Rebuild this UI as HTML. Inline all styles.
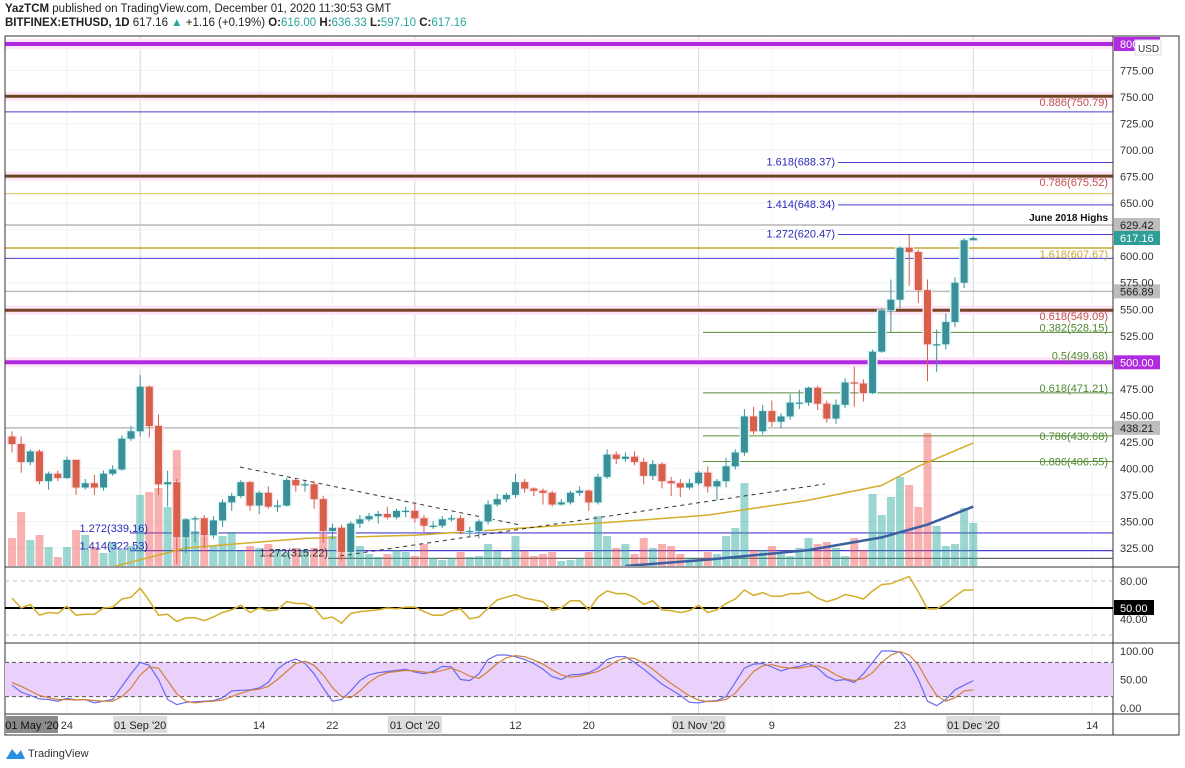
<!DOCTYPE html>
<html><head><meta charset="utf-8">
<style>
html,body{margin:0;padding:0;background:#fff;width:1185px;height:768px;overflow:hidden;font-family:"Liberation Sans",sans-serif;}
#hdr1{position:absolute;left:5px;top:3px;font-size:11.5px;color:#222;}
#hdr2{position:absolute;left:5px;top:17px;font-size:11.5px;color:#222;}
svg{position:absolute;left:0;top:0;}
</style></head><body>
<div id="hdr1"><b>YazTCM</b> published on TradingView.com, December 01, 2020 11:30:53 GMT</div>
<div id="hdr2"><b>BITFINEX:ETHUSD, 1D</b> 617.16 <span style="color:#26a69a">▲</span> +1.16 (+0.19%) <b>O:</b><span style="color:#26a69a">616.00</span> <b>H:</b><span style="color:#26a69a">636.33</span> <b>L:</b><span style="color:#26a69a">597.10</span> <b>C:</b><span style="color:#26a69a">617.16</span></div>
<svg id="chart" width="1185" height="768"></svg>
<script>
const opens=[430,423,406,416,388,395,391,408,382,386,382,395,399,428,
435,477,440,385,387,335,352,353,337,351,368,374,387,365,377,364,365,389,384,385,371,341,344,321,348,352,355,357,354,360,
360,353,346,346,352,353,341,341,350,366,371,375,387,381,379,377,366,368,377,379,368,392,413,409,411,406,393,404,388,386,382,
386,396,383,388,402,415,449,435,454,444,449,462,462,476,461,447,460,481,480,471,510,549,559,608,604,568,517,517,538,575,615];
const closes=[423,406,416,388,395,391,408,382,386,382,395,399,428,435,
477,440,385,387,335,352,353,337,351,368,374,387,365,377,364,365,389,384,385,371,341,344,321,348,352,355,357,354,360,360,
353,346,346,352,353,341,341,350,366,371,375,387,381,379,377,366,368,377,379,368,392,413,409,411,406,393,404,388,386,382,386,
396,383,388,402,415,449,435,454,444,449,462,462,476,461,447,460,481,480,471,510,549,559,608,604,568,517,517,538,575,615,617];
const highs=[435,430,418,418,397,398,411,408,390,394,398,403,431,440,
488,478,451,398,390,353,355,356,355,371,377,389,388,379,383,370,391,390,388,388,374,348,347,350,356,358,360,364,362,364,
368,356,350,355,356,356,345,352,370,376,377,395,390,382,381,379,371,379,383,380,395,418,416,415,416,410,408,406,392,390,390,
398,402,390,410,418,456,458,460,464,452,470,474,477,478,464,465,485,496,484,512,551,578,609,620,606,578,531,546,580,617,619];
const lows=[415,396,403,385,380,388,390,375,380,375,379,393,398,426,
430,429,375,364,310,320,330,325,334,345,360,372,360,357,362,359,364,378,378,362,330,333,313,315,344,350,348,352,352,354,
349,340,343,344,350,338,336,334,347,364,368,372,377,374,366,364,365,366,374,360,366,390,404,406,403,385,389,381,374,373,380,
384,377,370,382,399,412,432,432,439,438,446,456,459,455,443,442,457,458,463,470,509,528,551,572,556,482,491,512,533,570,615];
const volumes=[28,54,26,31,19,9,19,36,31,19,13,24,16,20,
71,74,78,59,116,42,35,36,20,30,34,15,20,18,22,16,14,18,16,18,32,30,26,16,20,12,9,12,16,14,
10,22,8,6,8,14,9,10,22,15,7,30,15,10,12,14,5,6,8,14,50,30,18,22,12,28,18,22,20,12,8,
6,14,12,30,38,83,16,16,20,12,10,18,28,22,24,18,10,28,16,72,51,69,89,81,59,133,40,20,22,58,43];
const rsi=[61,50,54,42,45,44,52,42,43,43,50,51,60,62,
72,58,42,43,35,39,39,36,40,45,48,53,45,50,47,48,57,55,55,50,38,40,33,44,46,47,48,50,49,51,
51,46,42,42,47,49,38,40,50,59,62,65,61,59,57,47,50,58,58,48,62,69,66,66,62,54,58,48,47,45,47,
53,45,48,55,60,70,64,67,63,63,66,66,68,61,57,60,65,63,60,69,76,77,81,85,68,49,49,55,63,70,70];
const stochK=[40,28,22,16,15,12,17,14,15,9,12,15,38,60,
80,75,50,15,6,10,11,12,13,18,30,31,32,35,45,68,80,86,78,60,35,12,15,30,48,58,62,64,66,68,
63,60,64,73,72,50,48,60,85,93,93,90,85,78,68,55,50,58,59,62,70,85,90,90,80,68,55,42,32,22,10,
9,12,13,20,45,70,77,78,72,65,70,73,78,70,55,48,50,45,60,80,100,100,98,80,50,12,4,15,32,40,48];
const stochD=[45,38,30,22,18,15,15,14,15,13,12,12,20,35,
58,72,70,48,25,12,9,11,12,14,20,26,31,33,38,50,64,78,82,75,58,36,20,18,30,45,56,62,64,66,
65,63,62,66,70,64,56,52,64,78,88,92,90,84,77,67,58,54,56,60,64,72,82,88,87,79,68,55,43,32,21,
14,11,12,15,26,45,64,74,76,72,70,70,73,74,68,58,51,48,52,62,80,93,99,93,76,47,22,12,18,30,32];
const ma50Days=[10,19,32,44,65,76,87,95,99,105];
const ma50Vals=[305,325,334,337,349,356,370,384,402,424];
const ma200Days=[67,76,87,95,100,105];
const ma200Vals=[308,314,323,335,347,364];
const priceTicks=[775,750,725,700,675,650,600,575,550,525,475,450,425,400,375,350,325];
const dateLabels=["24","14","22","12","20","9","23","14"];
const dateLabelDays=[6,27,35,55,63,83,97,118];
const monthLabels=["01 Sep '20","01 Oct '20","01 Nov '20","01 Dec '20"];
const monthDays=[14,44,75,105];

const NS="http://www.w3.org/2000/svg";
const svg=document.getElementById('chart');
function mk(tag,attrs,parent){const e=document.createElementNS(NS,tag);for(const k in attrs)e.setAttribute(k,attrs[k]);(parent||svg).appendChild(e);return e;}
const X=d=>12+d*9.155;
const Y=p=>44+(800-p)*1.061;
const YR=r=>608-(r-50)*0.9;
const YS=s=>708-s*0.57;
const VB=566;

const defs=mk('defs',{});
const cp=mk('clipPath',{id:'mainclip'},defs);
mk('rect',{x:5,y:36,width:1108,height:530},cp);

const grid=mk('g',{});


priceTicks.concat([800,625,500]).forEach(p=>mk('line',{x1:5,x2:1113,y1:Y(p),y2:Y(p),stroke:'#f0f3f6'},grid));
[-6,6,27,35,55,63,83,97,118].forEach(d=>mk('line',{x1:X(d),x2:X(d),y1:36,y2:714,stroke:'#f0f3f6'},grid));
monthDays.forEach(d=>mk('line',{x1:X(d),x2:X(d),y1:36,y2:714,stroke:'#d6d6d6'},grid));

const levels=[
 {p:800,c:'#b02ae0',w:4,glow:1,x1:5},
 {p:750.79,c:'#6b4424',w:3,glow:1,x1:5},
 {p:736,c:'#4a3fd0',w:1,x1:5},
 {p:688.37,c:'#4a3fd0',w:1,x1:838},
 {p:675.52,c:'#6b4424',w:3,glow:1,x1:5},
 {p:659,c:'#d8c25a',w:1,x1:5},
 {p:648.34,c:'#4a3fd0',w:1,x1:838},
 {p:629.42,c:'#c8c8c8',w:2,x1:5},
 {p:620.47,c:'#4a3fd0',w:1,x1:838},
 {p:607.67,c:'#c9a632',w:1.5,x1:5},
 {p:598,c:'#4a3fd0',w:1,x1:5},
 {p:566.89,c:'#bdbdbd',w:1.5,x1:5},
 {p:549.09,c:'#7a4226',w:3,glow:1,x1:5},
 {p:528.15,c:'#5a8a3a',w:1,x1:703},
 {p:500,c:'#b02ae0',w:4,glow:1,x1:5},
 {p:471.21,c:'#5a8a3a',w:1,x1:703},
 {p:438.21,c:'#bdbdbd',w:1.5,x1:5},
 {p:430.68,c:'#5a8a3a',w:1,x1:703},
 {p:406.55,c:'#5a8a3a',w:1,x1:703},
 {p:339.16,c:'#4a3fd0',w:1.2,x1:130},
 {p:322.53,c:'#4a3fd0',w:1.2,x1:130},
 {p:315.22,c:'#666',w:1.2,x1:328}
];
const lv=mk('g',{});


levels.forEach(l=>{
 if(l.glow) mk('line',{x1:l.x1,x2:1113,y1:Y(l.p),y2:Y(l.p),stroke:'#fde6f5','stroke-width':l.w+6},lv);
 mk('line',{x1:l.x1,x2:1113,y1:Y(l.p),y2:Y(l.p),stroke:l.c,'stroke-width':l.w},lv);
});

const vg=mk('g',{'clip-path':'url(#mainclip)'});


volumes.forEach((v,i)=>{
 const up=closes[i]>=opens[i];
 const r=mk('rect',{x:X(i)-4,y:VB-v,width:8,height:v,fill:up?'rgba(38,166,154,0.45)':'rgba(239,83,80,0.45)'},vg);
 
 
});

function poly(days,vals,yf){return days.map((d,i)=>X(d).toFixed(1)+','+yf(vals[i]).toFixed(1)).join(' ');}
const ma1=mk('polyline',{points:poly(ma50Days,ma50Vals,Y),fill:'none',stroke:'#d4ad2a','stroke-width':1.5,'clip-path':'url(#mainclip)'});


const ma2=mk('polyline',{points:poly(ma200Days,ma200Vals,Y),fill:'none',stroke:'#3b5fa0','stroke-width':2.5,'clip-path':'url(#mainclip)'});



const t1=mk('line',{x1:240,y1:467,x2:520,y2:525,stroke:'#333','stroke-dasharray':'4,4'});


const t2=mk('line',{x1:340,y1:556,x2:825,y2:484,stroke:'#333','stroke-dasharray':'4,4'});



const cg=mk('g',{});


opens.forEach((o,i)=>{
 const c=closes[i],up=c>=o,col=up?'#3c8f98':'#d85f48';
 const g=mk('g',{},cg);
 
 
 const top=Y(Math.max(o,c)),bot=Y(Math.min(o,c));
 mk('rect',{x:X(i)-5,y:top-1,width:10,height:Math.max(bot-top,1)+2,fill:up?'#d8fbfa':'#fde0ec'},g);
 mk('line',{x1:X(i),x2:X(i),y1:Y(highs[i]),y2:Y(lows[i]),stroke:col,'stroke-width':1},g);
 mk('rect',{x:X(i)-3.5,y:top,width:7,height:Math.max(bot-top,1.2),fill:col},g);
});

function txt(x,y,s,attrs,name){const t=mk('text',Object.assign({x:x,y:y,'font-size':11,'font-family':'Liberation Sans, sans-serif'},attrs));t.textContent=s;return t;}
txt(1108,Y(750.79)+10,'0.886(750.79)',{fill:'#c0504d','text-anchor':'end'},'fib-label-750');
txt(1108,Y(675.52)+10,'0.786(675.52)',{fill:'#c0504d','text-anchor':'end'},'fib-label-675');
txt(1108,Y(607.67)+10,'1.618(607.67)',{fill:'#c9a632','text-anchor':'end'},'fib-label-607');
txt(1108,Y(549.09)+10,'0.618(549.09)',{fill:'#c0504d','text-anchor':'end'},'fib-label-549');
txt(1108,Y(528.15)-1,'0.382(528.15)',{fill:'#4f8a2f','text-anchor':'end'},'fib-label-528');
txt(1108,Y(500)-3,'0.5(499.68)',{fill:'#4f8a2f','text-anchor':'end'},'fib-label-499');
txt(1108,Y(471.21)-1,'0.618(471.21)',{fill:'#4f8a2f','text-anchor':'end'},'fib-label-471');
txt(1108,Y(430.68)+4,'0.786(430.68)',{fill:'#4f8a2f','text-anchor':'end'},'fib-label-430');
txt(1108,Y(406.55)+4,'0.886(406.55)',{fill:'#4f8a2f','text-anchor':'end'},'fib-label-406');
txt(835,Y(688.37)+3,'1.618(688.37)',{fill:'#2a2ab8','text-anchor':'end'},'ext-label-688');
txt(835,Y(648.34)+3,'1.414(648.34)',{fill:'#2a2ab8','text-anchor':'end'},'ext-label-648');
txt(835,Y(620.47)+3,'1.272(620.47)',{fill:'#2a2ab8','text-anchor':'end'},'ext-label-620');
txt(148,Y(339.16)-1,'1.272(339.16)',{fill:'#2a2ab8','text-anchor':'end'},'ext-label-339');
txt(148,Y(322.53)-1,'1.414(322.53)',{fill:'#2a2ab8','text-anchor':'end'},'ext-label-322');
txt(328,Y(315.22)-2,'1.272(315.22)',{fill:'#333','text-anchor':'end'},'ext-label-315');
txt(1108,Y(629.42)-4,'June 2018 Highs',{fill:'#111','text-anchor':'end','font-weight':'bold','font-size':10},'june-2018-highs-label');

const fr=mk('g',{});


mk('rect',{x:5,y:36,width:1174,height:699,fill:'none',stroke:'#333','stroke-width':1},fr);
mk('line',{x1:1113,x2:1113,y1:36,y2:735,stroke:'#333'},fr);
[567,643,714].forEach(y=>mk('line',{x1:5,x2:1179,y1:y,y2:y,stroke:'#333'},fr));

const ax=mk('g',{});


priceTicks.forEach(p=>{txt(1120,Y(p)+4,p.toFixed(2),{fill:'#333'},'price-tick');});
function tag(p,s,bg,fg,name){const g=mk('g',{},ax);mk('rect',{x:1114,y:Y(p)-7,width:46,height:14,fill:bg},g);const t=mk('text',{x:1120,y:Y(p)+4,'font-size':11,fill:fg,'font-family':'Liberation Sans, sans-serif'},g);t.textContent=s;}
tag(800,'800.00','#b02ae0','#fff','price-tag-800');
tag(629.42,'629.42','#bdbdbd','#222','price-tag-629');
tag(617.16,'617.16','#2e9e96','#fff','price-tag-last');
tag(566.89,'566.89','#bdbdbd','#222','price-tag-566');
tag(500,'500.00','#b02ae0','#fff','price-tag-500');
tag(438.21,'438.21','#bdbdbd','#222','price-tag-438');
const usd=mk('rect',{x:1135,y:40,width:26,height:15,fill:'#fff',stroke:'#ddd'});


txt(1138,52,'USD',{fill:'#333','font-size':10},'currency-label');

const rg=mk('g',{});


[80,20].forEach(v=>mk('line',{x1:5,x2:1113,y1:YR(v),y2:YR(v),stroke:'#bbb','stroke-dasharray':'4,4'},rg));
mk('line',{x1:5,x2:1113,y1:YR(50),y2:YR(50),stroke:'#000','stroke-width':2},rg);
const rl=mk('polyline',{points:rsi.map((v,i)=>X(i).toFixed(1)+','+YR(v).toFixed(1)).join(' '),fill:'none',stroke:'#d4ad2a','stroke-width':1.5},rg);


txt(1120,YR(80)+4,'80.00',{fill:'#333'},'rsi-tick-80');
txt(1120,YR(40)+6,'40.00',{fill:'#333'},'rsi-tick-40');
mk('rect',{x:1114,y:YR(50)-8,width:40,height:15,fill:'#000'},rg);
txt(1120,YR(50)+4,'50.00',{fill:'#fff'},'rsi-tick-50');

const sg=mk('g',{});


mk('rect',{x:5,y:YS(80),width:1108,height:YS(20)-YS(80),fill:'#e9d1fb'},sg);
[80,20].forEach(v=>mk('line',{x1:5,x2:1113,y1:YS(v),y2:YS(v),stroke:'#555','stroke-dasharray':'4,3'},sg));
const kl=mk('polyline',{points:stochK.map((v,i)=>X(i).toFixed(1)+','+YS(v).toFixed(1)).join(' '),fill:'none',stroke:'#6a6af0','stroke-width':1.2},sg);


const dl=mk('polyline',{points:stochD.map((v,i)=>X(i).toFixed(1)+','+YS(v).toFixed(1)).join(' '),fill:'none',stroke:'#d2803c','stroke-width':1.2},sg);


txt(1120,YS(100)+4,'100.00',{fill:'#333'},'stoch-tick-100');
txt(1120,YS(50)+4,'50.00',{fill:'#333'},'stoch-tick-50');
txt(1120,YS(0)+4,'0.00',{fill:'#333'},'stoch-tick-0');

const dg=mk('g',{});


dateLabels.forEach((s,i)=>txt(X(dateLabelDays[i]),729,s,{fill:'#333','text-anchor':'middle'},'date-tick'));
monthLabels.forEach((s,i)=>{mk('rect',{x:X(monthDays[i])-27,y:716,width:54,height:17,fill:'#dcdcdc'},dg);txt(X(monthDays[i]),729,s,{fill:'#222','text-anchor':'middle'},'month-tick');});
mk('rect',{x:6,y:716,width:52,height:17,fill:'#8a8a8a'},dg);
txt(32,729,"01 May '20",{fill:'#111','text-anchor':'middle'},'range-start-tick');

const lg=mk('g',{});


mk('path',{d:'M6 759 L12 749 L17 755 L21 750 L25 759 Z',fill:'#2b8ee6'},lg);
txt(28,757,'TradingView',{fill:'#333','font-size':11},'tradingview-wordmark');
</script>
</body></html>
